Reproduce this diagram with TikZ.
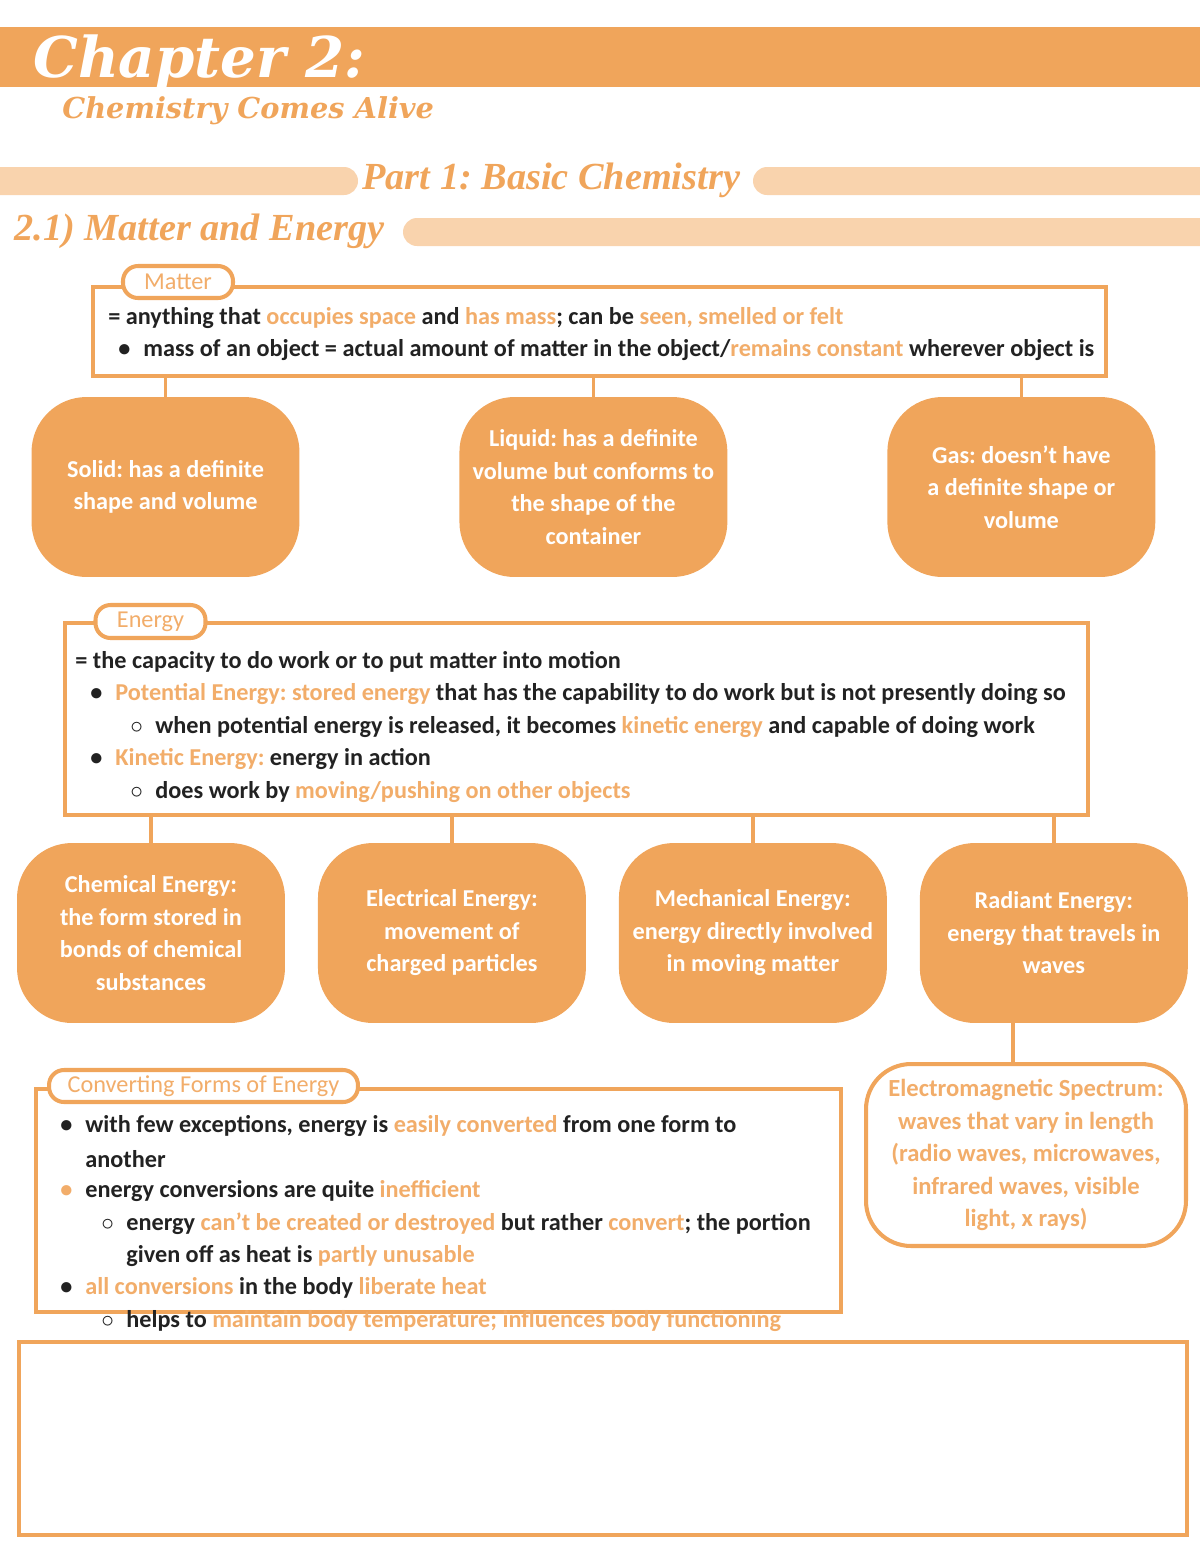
\documentclass[tikz,border=0pt]{standalone}
\usepackage{fontspec}
\setmainfont{Carlito}
\newfontfamily\headfont{Liberation Serif}
\newfontfamily\chapfont{DejaVu Serif}
\frenchspacing
\usetikzlibrary{positioning}
\definecolor{accent}{HTML}{F0A55B}
\definecolor{pale}{HTML}{F9D3AD}
\definecolor{soft}{HTML}{F2AD6A}
\definecolor{ink}{HTML}{222222}
\newcommand{\hl}[1]{\textcolor{soft}{#1}}
\newcommand{\bul}[1][ink]{\makebox[0.5cm][l]{\textcolor{#1}{\textbullet}}}
\newcommand{\subbul}{\makebox[0.5cm][l]{$\circ$}}
\tikzset{
  txt/.style={anchor=west,inner sep=0pt,text=ink,
    font=\bfseries\fontsize{13.8}{18.5}\selectfont},
  frame/.style={draw=accent,line width=2.3pt,fill=white,inner sep=0pt,outer sep=0pt},
  tag/.style={draw=accent,line width=2.3pt,fill=white,rounded corners=0.3cm,
    text=soft,font=\fontsize{13.8}{14}\selectfont,inner sep=0pt},
  blob/.style={fill=accent,rounded corners=1.1cm,align=center,text=white,
    minimum width=5.36cm,minimum height=3.6cm,inner sep=0pt,outer sep=0pt,
    font=\bfseries\fontsize{13.8}{18.5}\selectfont},
  emcard/.style={draw=accent,line width=2.3pt,fill=white,rounded corners=0.9cm,
    align=center,text=soft,minimum width=6.4cm,minimum height=3.64cm,inner sep=0pt,
    font=\bfseries\fontsize{14}{18.5}\selectfont},
  link/.style={draw=accent,line width=2pt},
  band/.style={fill=pale,rounded corners=0.28cm},
  heading/.style={anchor=west,inner sep=0pt,text=accent,
    font=\headfont\bfseries\itshape\fontsize{21.8}{24}\selectfont}
}
\begin{document}
\begin{tikzpicture}[x=0.02cm,y=-0.02cm]
  \useasboundingbox (0,0) rectangle (1200,1552);
  \clip (0,0) rectangle (1200,1552);

  % headings
  \fill[accent] (0,27) rectangle (1200,87);
  \node[heading,text=white,font=\chapfont\bfseries\itshape\fontsize{32}{36}\selectfont]
    (chap) at (33,62) {Chapter 2:};
  \node[heading,font=\chapfont\bfseries\itshape\fontsize{16.4}{20}\selectfont]
    (sub) at (62,111) {Chemistry Comes Alive};
  \fill[band] (-40,167) rectangle (358,195);
  \fill[band] (753,167) rectangle (1240,195);
  \node[heading] (part) at (362,180) {Part 1: Basic Chemistry};
  \fill[band] (403,218) rectangle (1240,246);
  \node[heading] (sect) at (14,231) {2.1) Matter and Energy};

  % matter
  \node[frame,minimum width=20.26cm,minimum height=1.78cm] (matter) at (599.5,331.5) {};
  \node[tag,minimum width=2.2cm,minimum height=0.64cm] (mattertag) at (178,282) {Matter};
  \node[txt] (m1) at (108,318) {= anything that \hl{occupies space} and \hl{has mass}; can be \hl{seen, smelled or felt}};
  \node[txt] (m2) at (118,350) {\bul mass of an object = actual amount of matter in the object/\hl{remains constant} wherever object is};

  \node[blob] (solid) at (165.5,487) {Solid: has a definite\\shape and volume};
  \node[blob,right=3.2cm of solid] (liquid) {Liquid: has a definite\\volume but conforms to\\the shape of the\\container};
  \node[blob,right=3.2cm of liquid] (gas) {Gas: doesn't have\\a definite shape or\\volume};
  \foreach \s in {solid,liquid,gas}
    \draw[link] (\s.north) -- (\s.north |- matter.south);

  % energy
  \node[frame,minimum width=20.46cm,minimum height=3.84cm] (energy) at (576.5,719) {};
  \node[tag,minimum width=2.2cm,minimum height=0.66cm] (energytag) at (150.5,621.5) {Energy};
  \node[txt] (e1) at (75,662) {= the capacity to do work or to put matter into motion};
  \node[txt] (e2) at (90,694) {\bul\hl{Potential Energy: stored energy} that has the capability to do work but is not presently doing so};
  \node[txt] (e3) at (130,727) {\subbul when potential energy is released, it becomes \hl{kinetic energy} and capable of doing work};
  \node[txt] (e4) at (90,759) {\bul\hl{Kinetic Energy:} energy in action};
  \node[txt] (e5) at (130,792) {\subbul does work by \hl{moving/pushing on other objects}};

  \node[blob] (chem) at (151,933) {Chemical Energy:\\the form stored in\\bonds of chemical\\substances};
  \node[blob,right=0.66cm of chem] (elec) {Electrical Energy:\\movement of\\charged particles};
  \node[blob,right=0.66cm of elec] (mech) {Mechanical Energy:\\energy directly involved\\in moving matter};
  \node[blob,right=0.66cm of mech] (radiant) {Radiant Energy:\\energy that travels in\\waves};
  \foreach \s in {chem,elec,mech,radiant}
    \draw[link] (\s.north) -- (\s.north |- energy.south);

  \node[emcard] (em) at (1026,1155) {Electromagnetic Spectrum:\\waves that vary in length\\(radio waves, microwaves,\\infrared waves, visible\\light, x rays)};
  \coordinate (tap) at ([xshift=-0.82cm]radiant.south);
  \draw[link] (tap) -- (tap |- em.north);

  % converting forms
  \node[frame,minimum width=16.1cm,minimum height=4.46cm] (conv) at (438.5,1200.5) {};
  \node[tag,minimum width=6.18cm,minimum height=0.64cm] (convtag) at (203.5,1086) {Converting Forms of Energy};
  \node[txt] (c1) at (60,1126) {\bul with few exceptions, energy is \hl{easily converted} from one form to};
  \node[txt] (c1b) at (85,1159) {another};
  \node[txt] (c2) at (60,1191) {\bul[soft]energy conversions are quite \hl{inefficient}};
  \node[txt] (c3) at (101,1224) {\subbul energy \hl{can't be created or destroyed} but rather \hl{convert}; the portion};
  \node[txt] (c3b) at (126,1256) {given off as heat is \hl{partly unusable}};
  \node[txt] (c4) at (60,1288) {\bul\hl{all conversions} in the body \hl{liberate heat}};
  \node[txt] (c5) at (101,1321) {\subbul helps to \hl{maintain body temperature; influences body functioning}};

  % notes area
  \node[frame,minimum width=23.36cm,minimum height=3.86cm] (notes) at (603,1438.5) {};
\end{tikzpicture}
\end{document}
